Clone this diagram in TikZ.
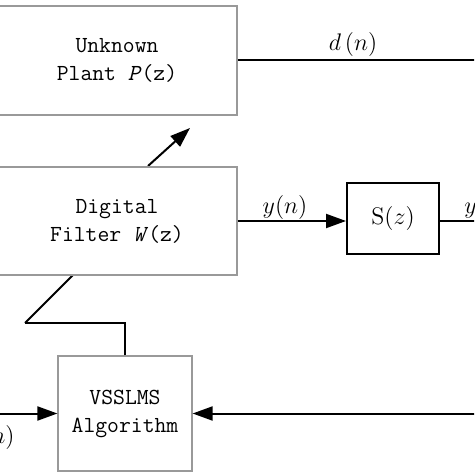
\documentclass[tikz,border=0pt]{standalone}
\usetikzlibrary{arrows.meta}
\tikzset{
  bigbox/.style={draw=gray!80,line width=0.6pt,fill=white,align=center,
    font=\ttfamily\fontsize{11.5}{14}\selectfont,inner sep=0pt},
  smallbox/.style={draw,line width=1pt,fill=white,inner sep=0pt},
  sig/.style={line width=1pt,-{Triangle[length=10pt,width=7pt]}},
  lbl/.style={font=\fontsize{13}{15}\selectfont}
}
\begin{document}
\begin{tikzpicture}[x=0.5pt,y=-0.5pt]
\clip (0,0) rectangle (474,474);
\useasboundingbox (0,0) rectangle (474,474);

% adjustment line, drawn under the filter box
\coordinate (k1) at (125,323);
\coordinate (k2) at (25,323);
\coordinate (k3) at (73,275);
\coordinate (k4) at (148,166);
\coordinate (k5) at (190,128);
\draw[line width=1pt] (k2) -- (k3);
\draw[sig] (k4) -- (k5);

\node[bigbox,minimum width=120pt,minimum height=54.5pt] (plant) at (117,60.5) {Unknown\\Plant \textit{P}(z)};
\node[bigbox,minimum width=120pt,minimum height=54pt] (filter) at (117,221) {Digital\\Filter \textit{W}(z)};
\node[bigbox,minimum width=67pt,minimum height=57.5pt] (algo) at (125,413.5) {VSSLMS\\Algorithm};
\node[smallbox,minimum width=46pt,minimum height=35.5pt] (sec) at (393,218.5) {\fontsize{13}{15}\selectfont$\mathrm{S}(z)$};

\coordinate (dout) at (480,60.5);
\coordinate (yout) at (480,221);
\coordinate (xin) at (-10,413.5);
\coordinate (ein) at (480,413.5);

\draw[line width=1pt] (plant.east) -- (dout);
\node[lbl] (dlbl) at (353,45) {$d\,(n)$};

\draw[sig] (filter.east |- 0,221) -- (sec.west |- 0,221);
\node[lbl] (ylbl) at (285,208) {$y(n)$};
\draw[line width=1pt] (sec.east |- 0,221) -- (yout);
\node[lbl,anchor=west,inner sep=0pt] (yplbl) at (464,207) {$y'(n)$};

\draw[sig] (xin) -- (algo.west);
\node[lbl,anchor=east,inner sep=0pt] (xlbl) at (15,437) {$x(n)$};
\draw[sig] (ein) -- (algo.east);

\draw[line width=1pt] (algo.north) -- (k1) -- (k2);
\end{tikzpicture}
\end{document}
